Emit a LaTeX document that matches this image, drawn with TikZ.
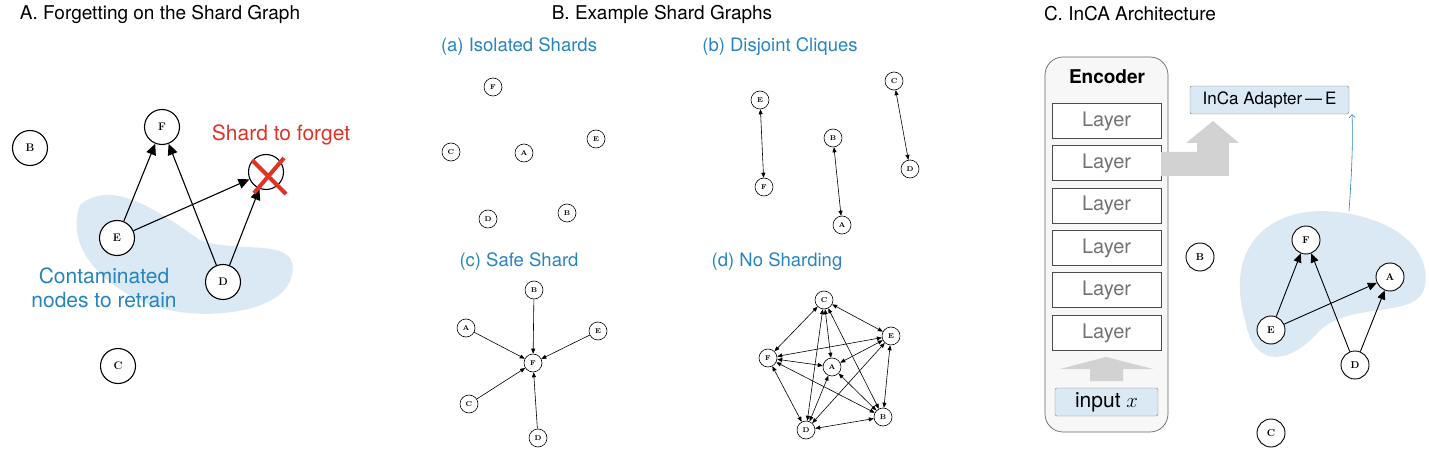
\documentclass[tikz,border=0pt]{standalone}
\usepackage{fontspec}
\setsansfont{TeX Gyre Heros}
\usetikzlibrary{arrows.meta}
\definecolor{blob}{RGB}{218,233,244}
\definecolor{tblue}{RGB}{38,132,190}
\definecolor{tred}{RGB}{222,52,40}
\definecolor{gr}{RGB}{210,210,210}
\begin{document}
\begin{tikzpicture}[x=1pt,y=-1pt,
 title/.style={font=\sffamily\fontsize{19}{21}\selectfont,anchor=center},
 sub/.style={font=\sffamily\fontsize{18.5}{20}\selectfont,text=tblue},
 bn/.style={circle,draw,line width=1.1pt,minimum size=35pt,inner sep=0pt,font=\bfseries\fontsize{11}{11}\selectfont,fill=white},
 cn/.style={circle,draw,line width=0.9pt,minimum size=28pt,inner sep=0pt,font=\bfseries\fontsize{10}{10}\selectfont,fill=white},
 sn/.style={circle,draw,line width=0.6pt,minimum size=18pt,inner sep=0pt,font=\bfseries\fontsize{7}{7}\selectfont,fill=white},
 big/.style={-{Triangle[length=11pt,width=10pt]},line width=1.1pt},
 mid/.style={-{Triangle[length=9pt,width=8pt]},line width=0.9pt},
 sm/.style={-{Triangle[length=5pt,width=4pt]},line width=0.6pt},
 smd/.style={{Triangle[length=5pt,width=4pt]}-{Triangle[length=5pt,width=4pt]},line width=0.6pt},
 layer/.style={draw=black!70,fill=white,minimum width=109pt,minimum height=35pt,inner sep=0pt,font=\sffamily\fontsize{20}{20}\selectfont,text=black!55}]
\useasboundingbox (0,0) rectangle (1429,462);
% titles
\node[title] at (160,14) {A. Forgetting on the Shard Graph};
\node[title] at (662,14) {B. Example Shard Graphs};
\node[title] at (1130,14) {C. InCA Architecture};
% ---- Panel A
\fill[blob] (80,205) .. controls (110,180) and (150,205) .. (200,240) .. controls (240,255) and (300,235) .. (292,275)
 .. controls (285,310) and (220,318) .. (180,312) .. controls (130,306) and (60,260) .. (80,205) -- cycle;
\node[bn] (aB) at (30,148) {B};
\node[bn] (aF) at (162,127) {F};
\node[bn] (aA) at (266,172) {};
\node[bn] (aE) at (117,238) {E};
\node[bn] (aD) at (223,282) {D};
\node[bn] (aC) at (118,366) {C};
\draw[big] (aE) -- (aF);
\draw[big] (aD) -- (aF);
\draw[big] (aE) -- (aA);
\draw[big] (aD) -- (aA);
\draw[tred,line width=4pt] (252,160) -- (286,194) (284,158) -- (254,193);
\node[font=\sffamily\fontsize{21}{21}\selectfont,text=tred] (sf) at (281,135) {Shard to forget};
\node[font=\sffamily\fontsize{21}{24}\selectfont,text=tblue,align=center] (cnt) at (104,288) {Contaminated\\nodes to retrain};
% ---- Panel B (a)
\node[sub] at (519,47) {(a) Isolated Shards};
\node[sn] (i1) at (493,87) {F};
\node[sn] (i2) at (451,152) {C};
\node[sn] (i3) at (524,153) {A};
\node[sn] (i4) at (596,139) {E};
\node[sn] (i5) at (488,219) {D};
\node[sn] (i6) at (567,213) {B};
% (b)
\node[sub] at (780,47) {(b) Disjoint Cliques};
\node[sn] (bE) at (760,100) {E};
\node[sn] (bF) at (764,187) {F};
\node[sn] (bB) at (833,138) {B};
\node[sn] (bA) at (842,225) {A};
\node[sn] (bC) at (894,81) {C};
\node[sn] (bD) at (910,169) {D};
\draw[smd] (bE) -- (bF);
\draw[smd] (bB) -- (bA);
\draw[smd] (bC) -- (bD);
% (c)
\node[sub] at (519,262) {(c) Safe Shard};
\node[sn] (cB) at (534,290) {B};
\node[sn] (cA) at (466,328) {A};
\node[sn] (cE) at (598,331) {E};
\node[sn] (cF) at (533,363) {F};
\node[sn] (cC) at (469,404) {C};
\node[sn] (cD) at (538,438) {D};
\foreach \s in {cB,cA,cE,cC,cD} \draw[sm] (\s) -- (cF);
% (d)
\node[sub] at (777,262) {(d) No Sharding};
\node[sn] (dC) at (824,300) {C};
\node[sn] (dE) at (891,336) {E};
\node[sn] (dF) at (768,358) {F};
\node[sn] (dA) at (832,367) {A};
\node[sn] (dB) at (883,417) {B};
\node[sn] (dD) at (806,430) {D};
\foreach \a/\b in {dC/dE,dC/dF,dC/dA,dC/dD,dC/dB,dE/dF,dE/dA,dE/dB,dE/dD,dF/dA,dF/dD,dF/dB,dA/dD,dA/dB,dD/dB}
 \draw[smd] (\a) -- (\b);
% ---- Panel C
\node[draw=black!60,fill=black!3,rounded corners=18pt,minimum width=123pt,minimum height=375pt,line width=0.7pt] (enc) at (1106.5,244.5) {};
\node[font=\sffamily\bfseries\fontsize{19}{19}\selectfont] (encl) at (1107,77) {Encoder};
\foreach \i/\y in {1/121,2/163,3/205.5,4/248,5/290,6/333}
  \node[layer] (L\i) at (1106.5,\y) {Layer};
\fill[gr] (1060,369) -- (1106,357) -- (1153,369) -- (1123,369) -- (1123,381) -- (1090,381) -- (1090,369) -- cycle;
\node[draw=black!50,fill=blob,rounded corners=2pt,minimum width=103pt,minimum height=28pt,inner sep=0pt,font=\sffamily\fontsize{21}{21}\selectfont] (inp) at (1106.5,402) {input $x$};
\fill[gr] (L2.east|-0,152) -- (1197,152) -- (1197,143) -- (1186,143) -- (1213,121) -- (1239,143) -- (1229,143) -- (1229,176) -- (L2.east|-0,176) -- cycle;
\node[draw=black!50,fill=blob,rounded corners=2pt,minimum width=159pt,minimum height=28pt,inner sep=0pt,font=\sffamily\fontsize{17}{17}\selectfont] (ad) at (1269.5,100) {InCa Adapter\,---\,E};
\fill[blob] (1245,320) .. controls (1225,250) and (1265,212) .. (1320,211) .. controls (1385,212) and (1432,245) .. (1425,285)
 .. controls (1420,320) and (1355,300) .. (1320,330) .. controls (1295,360) and (1255,375) .. (1245,320) -- cycle;
\coordinate (blobtop) at (1349,211);
\draw[tblue,line width=0.6pt,-{Straight Barb[length=3pt]}] (blobtop) .. controls (1352,170) and (1353,140) .. (ad.south east -| 1352,0);
\node[cn] (pB) at (1200,257) {B};
\node[cn] (pF) at (1306,240) {F};
\node[cn] (pA) at (1390,277) {A};
\node[cn] (pE) at (1271,330) {E};
\node[cn] (pD) at (1355,365) {D};
\node[cn] (pC) at (1271,433) {C};
\draw[mid] (pE) -- (pF);
\draw[mid] (pD) -- (pF);
\draw[mid] (pE) -- (pA);
\draw[mid] (pD) -- (pA);
\end{tikzpicture}
\end{document}
